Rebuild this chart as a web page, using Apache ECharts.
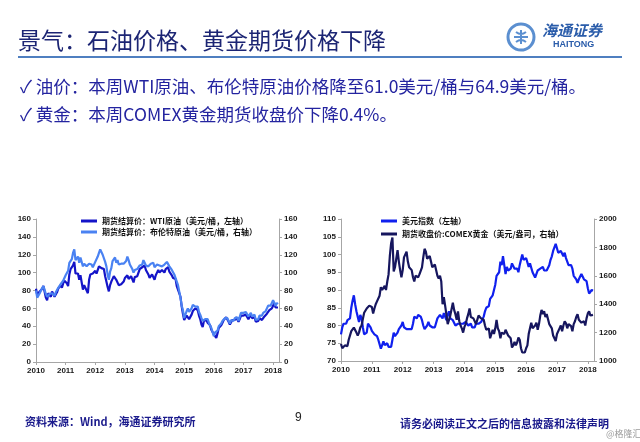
<!DOCTYPE html>
<html>
<head>
<meta charset="utf-8">
<script src="https://cdn.jsdelivr.net/npm/echarts@6/dist/echarts.min.js"></script>
<style>
  html, body { margin: 0; padding: 0; background: #fff; }
  #page { position: relative; width: 640px; height: 442px; overflow: hidden;
    font-family: "Noto Sans CJK SC", "Liberation Sans", sans-serif; }
  #chart { position: absolute; left: 0; top: 0; width: 640px; height: 442px; }
  .txt { position: absolute; white-space: nowrap; z-index: 2; }
</style>
</head>
<body>
<div id="page">
  <div id="chart"></div>

  <div class="txt" style="left:18px;top:22px;font-size:23px;color:#1c2574;">景气：石油价格、黄金期货价格下降</div>
  <div style="position:absolute;left:18px;top:56px;width:604px;height:2px;background:#4f7fc0;"></div>

  <!-- logo -->
  <svg style="position:absolute;left:506px;top:22px;z-index:2" width="30" height="30" viewBox="0 0 30 30">
    <circle cx="15" cy="15" r="13" fill="none" stroke="#5b8fd0" stroke-width="3"/>
    <path d="M8 15 H22 M15 8 V22 M10 10 Q15 14 20 10 M10 20 Q15 16 20 20" stroke="#5b8fd0" stroke-width="2" fill="none"/>
  </svg>
  <div class="txt" style="left:542px;top:19px;font-size:15px;font-style:italic;font-weight:bold;color:#2a5caa;">海通证券</div>
  <div class="txt" style="left:553px;top:39px;font-size:9px;font-weight:bold;color:#2a5caa;font-family:'Liberation Sans',Arial,sans-serif;">HAITONG</div>

  <div class="txt" style="left:20px;top:73px;font-size:17.5px;color:#2424a0;">✓ 油价：本周WTI原油、布伦特原油价格降至61.0美元/桶与64.9美元/桶。</div>
  <div class="txt" style="left:20px;top:101px;font-size:17.5px;color:#2424a0;">✓ 黄金：本周COMEX黄金期货收盘价下降0.4%。</div>

  <div class="txt" style="left:25px;top:413px;font-size:11px;font-weight:bold;color:#1a1a8c;">资料来源：Wind，海通证券研究所</div>
  <div class="txt" style="left:295px;top:410px;font-size:12px;color:#222;font-family:'Liberation Sans',Arial,sans-serif;">9</div>
  <div class="txt" style="left:400px;top:415px;font-size:11px;font-weight:bold;color:#1a1a8c;">请务必阅读正文之后的信息披露和法律声明</div>
  <div class="txt" style="left:606px;top:427px;font-size:9px;color:#9a9a9a;">@格隆汇</div>
</div>

<script>
// 半月一个点，从 2010 年 1 月开始
const startYear = 2010;

// 期货结算价：WTI原油（美元/桶）
const wti = [
  82, 75, 73, 79, 80, 82, 85, 87, 72, 69, 77, 76, 73, 79, 80, 73, 75, 78, 82, 82, 86, 83, 88, 91,
  91, 88, 85, 98, 104, 105, 108, 112, 99, 100, 99, 92, 97, 96, 81, 86, 88, 80, 77, 92, 98, 99, 99, 100,
  102, 99, 100, 107, 107, 105, 103, 104, 96, 90, 84, 79, 86, 90, 93, 96, 98, 92, 92, 86, 86, 87, 86, 90,
  94, 96, 97, 93, 92, 96, 94, 89, 95, 94, 96, 97, 104, 106, 106, 107, 108, 103, 101, 98, 94, 93, 98, 99,
  92, 97, 100, 103, 100, 100, 103, 101, 100, 104, 106, 106, 101, 101, 97, 94, 93, 93, 85, 81, 77, 73, 62, 54,
  47, 45, 52, 50, 48, 47, 53, 57, 59, 60, 60, 58, 52, 48, 42, 39, 46, 45, 47, 44, 42, 41, 36, 37,
  31, 29, 27, 32, 38, 39, 41, 44, 47, 49, 50, 48, 45, 42, 44, 47, 45, 47, 50, 50, 45, 48, 52, 53,
  52, 53, 53, 54, 48, 48, 53, 49, 48, 50, 45, 43, 46, 49, 49, 47, 49, 51, 51, 54, 56, 58, 57, 60,
  63, 66, 61, 62, 61
];

// 期货结算价：布伦特原油（美元/桶）
const brent = [
  80, 72, 73, 77, 80, 79, 85, 86, 76, 73, 75, 76, 74, 77, 79, 74, 78, 80, 83, 83, 87, 85, 91, 94,
  97, 98, 102, 111, 113, 115, 122, 126, 114, 114, 118, 111, 117, 117, 107, 110, 112, 107, 105, 110, 112, 109, 106, 107,
  112, 110, 118, 122, 126, 124, 120, 119, 112, 107, 98, 92, 101, 105, 113, 114, 117, 111, 114, 109, 108, 110, 108, 110,
  112, 113, 118, 114, 109, 108, 104, 100, 103, 102, 104, 102, 108, 108, 109, 114, 111, 108, 110, 107, 105, 110, 109, 111,
  106, 107, 109, 110, 108, 107, 107, 109, 109, 110, 112, 114, 107, 107, 103, 102, 98, 96, 90, 86, 79, 72, 63, 58,
  49, 48, 57, 60, 56, 55, 60, 64, 64, 62, 63, 62, 56, 53, 49, 46, 48, 48, 49, 48, 44, 44, 38, 37,
  29, 33, 33, 35, 40, 41, 43, 46, 48, 49, 49, 49, 46, 43, 47, 49, 46, 49, 51, 50, 46, 48, 55, 56,
  55, 55, 56, 56, 51, 51, 55, 51, 51, 53, 47, 45, 48, 52, 51, 52, 55, 57, 57, 60, 63, 63, 63, 66,
  69, 70, 63, 66, 64.9
];

// 美元指数
const dxy = [
  77.5, 79.5, 80.5, 80.5, 80.5, 81.5, 81, 82, 85, 87, 88.5, 86, 84, 82.5, 81, 83, 82, 79.5, 77.5, 77.5, 78, 80.5, 80, 79.5,
  78.5, 78, 77.5, 77.5, 77, 76, 75.5, 73.5, 74.5, 75.5, 74.5, 74.5, 75, 74, 74, 74, 76, 78, 77, 76.5, 78, 79, 79, 80,
  81, 79.5, 79, 79, 79.5, 79, 79.5, 79, 80.5, 82.5, 82, 82, 83, 83, 82.5, 81.5, 80, 79, 79.5, 80, 81, 80, 79.5, 79.5,
  80, 79.5, 80, 82, 82.5, 83, 82.5, 82, 83.5, 83.5, 81.5, 83, 84, 82, 81.5, 81.5, 81.5, 80, 79.7, 80.5, 81, 80.5, 80.5, 80.5,
  81, 81, 80.5, 80, 80, 80.5, 79.5, 79.5, 79.5, 80.5, 81, 80.5, 80, 81, 81.5, 82.5, 84, 85, 85.5, 85.5, 87.5, 88, 88.5, 90,
  91.5, 94, 94.5, 95, 98, 97, 99.5, 97, 94.5, 96.5, 95.5, 95, 96, 97.5, 97, 96, 95.5, 96, 95, 97, 98.5, 100, 98.5, 98.5,
  99, 99, 96.5, 97.5, 97, 95, 94.5, 93.5, 93.8, 95.5, 95, 96, 96, 96.5, 95.5, 95, 95.5, 95.5, 97, 98.5, 99.5, 101, 102, 103,
  102.5, 100.5, 100.5, 101, 101.5, 99.5, 100.5, 99, 98, 97, 97, 97, 96, 94, 93.5, 93, 92, 93, 93.5, 94.5, 94.5, 93, 93.5, 92.5,
  90.5, 89, 89, 90, 89.8
];

// 期货收盘价：COMEX黄金（美元/盎司）
const gold = [
  1120, 1090, 1080, 1110, 1120, 1105, 1150, 1150, 1210, 1200, 1235, 1240, 1200, 1180, 1200, 1235, 1250, 1295, 1340, 1345, 1370, 1365, 1390, 1390,
  1380, 1335, 1370, 1400, 1420, 1430, 1460, 1520, 1500, 1510, 1530, 1500, 1560, 1610, 1740, 1830, 1870, 1630, 1660, 1720, 1780, 1700, 1640, 1590,
  1640, 1730, 1740, 1770, 1700, 1660, 1650, 1640, 1590, 1560, 1600, 1590, 1590, 1610, 1620, 1660, 1730, 1790, 1770, 1720, 1730, 1740, 1700, 1660,
  1660, 1680, 1670, 1600, 1580, 1600, 1560, 1400, 1450, 1390, 1390, 1260, 1290, 1320, 1330, 1410, 1360, 1330, 1290, 1350, 1280, 1250, 1230, 1200,
  1240, 1260, 1300, 1330, 1370, 1310, 1320, 1300, 1300, 1260, 1270, 1320, 1330, 1300, 1310, 1290, 1250, 1220, 1230, 1230, 1160, 1190, 1220, 1190,
  1230, 1290, 1230, 1210, 1160, 1200, 1200, 1190, 1220, 1210, 1180, 1175, 1160, 1095, 1110, 1135, 1110, 1130, 1165, 1150, 1090, 1060, 1070, 1060,
  1090, 1110, 1190, 1230, 1270, 1230, 1230, 1250, 1270, 1220, 1260, 1320, 1360, 1330, 1350, 1310, 1330, 1320, 1260, 1270, 1230, 1180, 1160, 1140,
  1190, 1200, 1230, 1250, 1210, 1250, 1280, 1265, 1230, 1260, 1270, 1245, 1210, 1260, 1280, 1310, 1330, 1290, 1290, 1270, 1280, 1280, 1250, 1300,
  1335, 1350, 1320, 1330, 1325
];

const xMin = 2010;
const xMax = 2018.2;

function toPairs(values) {
  return values.map((v, i) => [startYear + i / 24, v]);
}

const chart = echarts.init(document.getElementById('chart'));

const axisLabel = {
  fontSize: 8,
  fontWeight: 'bold',
  color: '#1a1a1a',
  fontFamily: 'Liberation Sans, Arial, sans-serif'
};
const axisLine = { show: true, lineStyle: { color: '#a6a6a6', width: 1 } };

function xAxisCfg(gridIndex) {
  return {
    type: 'value',
    gridIndex: gridIndex,
    min: xMin,
    max: xMax,
    interval: 1,
    axisLine: axisLine,
    axisTick: { show: true, length: 3, lineStyle: { color: '#a6a6a6' } },
    axisLabel: Object.assign({}, axisLabel, {
      margin: 5,
      showMaxLabel: false,
      formatter: function (v) { return Number.isInteger(v) ? String(v) : ''; }
    }),
    splitLine: { show: false }
  };
}

function yAxisCfg(gridIndex, position, min, max, interval) {
  return {
    type: 'value',
    gridIndex: gridIndex,
    position: position,
    min: min,
    max: max,
    interval: interval,
    axisLine: axisLine,
    axisTick: { show: true, length: 3, lineStyle: { color: '#a6a6a6' } },
    axisLabel: Object.assign({}, axisLabel, {
      margin: 5,
      formatter: function (v) { return String(v); }
    }),
    splitLine: { show: false }
  };
}

const legendText = {
  fontSize: 8,
  fontWeight: 'bold',
  color: '#111',
  fontFamily: 'Noto Sans CJK SC, sans-serif'
};

chart.setOption({
  animation: false,
  legend: [
    {
      orient: 'vertical',
      left: 76,
      top: 212,
      itemWidth: 16,
      itemHeight: 3,
      itemGap: 3,
      icon: 'rect',
      textStyle: legendText,
      data: ['期货结算价：WTI原油（美元/桶，左轴）', '期货结算价：布伦特原油（美元/桶，右轴）']
    },
    {
      orient: 'vertical',
      left: 376,
      top: 212,
      itemWidth: 16,
      itemHeight: 3,
      itemGap: 5,
      icon: 'rect',
      textStyle: legendText,
      data: ['美元指数（左轴）', '期货收盘价:COMEX黄金（美元/盎司，右轴）']
    }
  ],
  grid: [
    { left: 36, top: 219, width: 243, height: 143 },
    { left: 341, top: 219, width: 253, height: 142 }
  ],
  xAxis: [xAxisCfg(0), xAxisCfg(1)],
  yAxis: [
    yAxisCfg(0, 'left', 0, 160, 20),
    yAxisCfg(0, 'right', 0, 160, 20),
    yAxisCfg(1, 'left', 70, 110, 5),
    yAxisCfg(1, 'right', 1000, 2000, 200)
  ],
  series: [
    {
      name: '期货结算价：WTI原油（美元/桶，左轴）',
      type: 'line',
      xAxisIndex: 0,
      yAxisIndex: 0,
      data: toPairs(wti),
      showSymbol: false,
      lineStyle: { color: '#1414c8', width: 2.2 },
      itemStyle: { color: '#1414c8' }
    },
    {
      name: '期货结算价：布伦特原油（美元/桶，右轴）',
      type: 'line',
      xAxisIndex: 0,
      yAxisIndex: 1,
      data: toPairs(brent),
      showSymbol: false,
      lineStyle: { color: '#4a82f2', width: 2.2 },
      itemStyle: { color: '#4a82f2' }
    },
    {
      name: '美元指数（左轴）',
      type: 'line',
      xAxisIndex: 1,
      yAxisIndex: 2,
      data: toPairs(dxy),
      showSymbol: false,
      lineStyle: { color: '#1020ee', width: 2.2 },
      itemStyle: { color: '#1020ee' }
    },
    {
      name: '期货收盘价:COMEX黄金（美元/盎司，右轴）',
      type: 'line',
      xAxisIndex: 1,
      yAxisIndex: 3,
      data: toPairs(gold),
      showSymbol: false,
      lineStyle: { color: '#16165e', width: 2.2 },
      itemStyle: { color: '#16165e' }
    }
  ]
});
</script>
</body>
</html>
